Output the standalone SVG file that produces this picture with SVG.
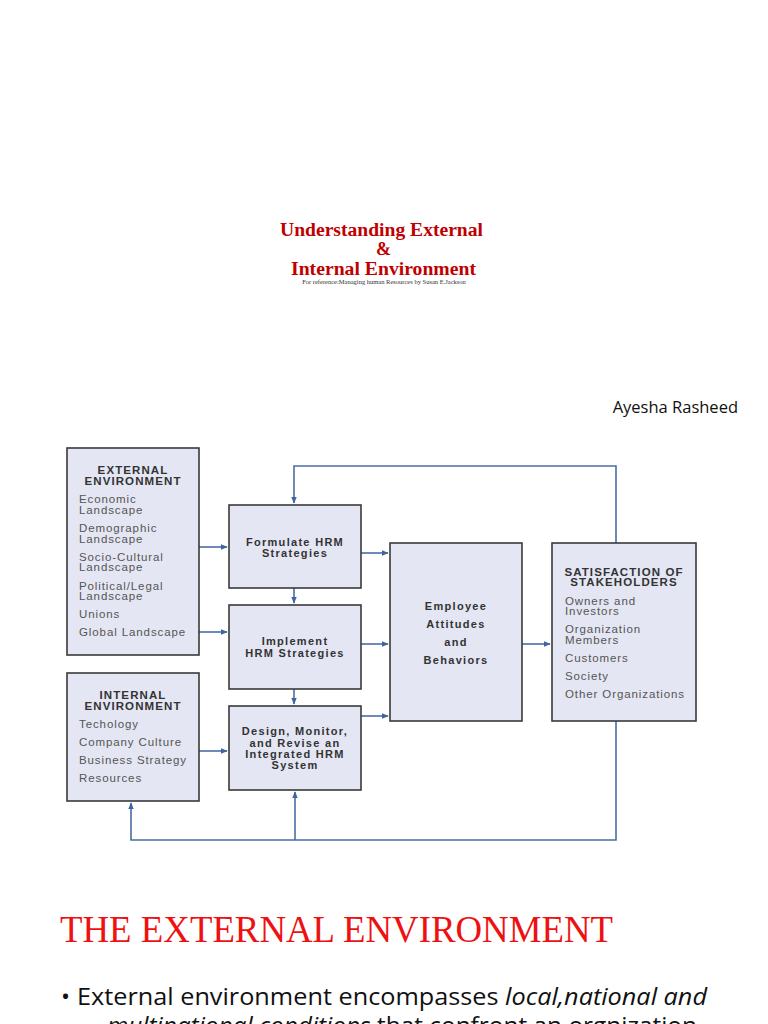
<svg xmlns="http://www.w3.org/2000/svg" width="768" height="1024" viewBox="0 0 768 1024">
<defs>
<marker id="ah" viewBox="0 0 10 10" refX="9" refY="5" markerWidth="7" markerHeight="7" markerUnits="userSpaceOnUse" orient="auto"><path d="M0,1 L10,5 L0,9 z" fill="#3f64a0"/></marker>
<style>
.box{fill:#e4e6f3;stroke:#3a3a3a;stroke-width:1.6}
.hd{font-family:"Liberation Sans",Arial,sans-serif;font-weight:bold;font-size:11.5px;fill:#333;letter-spacing:1.1px}
.it{font-family:"Liberation Sans",Arial,sans-serif;font-size:11.5px;fill:#555;letter-spacing:0.9px}
.ct{font-family:"Liberation Sans",Arial,sans-serif;font-weight:bold;font-size:11px;fill:#333;letter-spacing:1.3px}
.cn{fill:none;stroke:#4a6ea6;stroke-width:1.6}
.ti{font-family:"Liberation Serif","Times New Roman",serif;font-weight:bold;font-size:18px;fill:#c00000}
</style>
</defs>
<rect width="768" height="1024" fill="#fff"/>
<g id="title">
<text class="ti" x="280" y="236" textLength="203" lengthAdjust="spacingAndGlyphs">Understanding External</text>
<text class="ti" x="383.5" y="255" text-anchor="middle">&amp;</text>
<text class="ti" x="291" y="275" textLength="185" lengthAdjust="spacingAndGlyphs">Internal Environment</text>
<text x="384" y="284" text-anchor="middle" font-family="Liberation Serif,serif" font-size="6.5" fill="#333">For reference:Managing human Resources by Susan E.Jackson</text>
</g>
<text x="738" y="413" text-anchor="end" font-family="Open Sans,Liberation Sans,sans-serif" font-size="16.5" fill="#111">Ayesha Rasheed</text>
<g id="connectors">
<path class="cn" d="M616,543 V466 H294 V503" marker-end="url(#ah)"/>
<path class="cn" d="M616,721 V840 H131 V803" marker-end="url(#ah)"/>
<path class="cn" d="M295,840 V792" marker-end="url(#ah)"/>
<path class="cn" d="M199,547 H227" marker-end="url(#ah)"/>
<path class="cn" d="M199,632 H227" marker-end="url(#ah)"/>
<path class="cn" d="M199,751 H227" marker-end="url(#ah)"/>
<path class="cn" d="M361,553 H388" marker-end="url(#ah)"/>
<path class="cn" d="M361,644 H388" marker-end="url(#ah)"/>
<path class="cn" d="M361,716 H388" marker-end="url(#ah)"/>
<path class="cn" d="M522,644 H550" marker-end="url(#ah)"/>
<path class="cn" d="M294,588 V603" marker-end="url(#ah)"/>
<path class="cn" d="M294,689 V704" marker-end="url(#ah)"/>
</g>
<g id="external">
<rect class="box" x="67" y="448" width="132" height="207"/>
<text class="hd" x="133" y="474" text-anchor="middle">EXTERNAL</text>
<text class="hd" x="133" y="485" text-anchor="middle">ENVIRONMENT</text>
<text class="it" x="79" y="503">Economic</text>
<text class="it" x="79" y="514">Landscape</text>
<text class="it" x="79" y="532">Demographic</text>
<text class="it" x="79" y="543">Landscape</text>
<text class="it" x="79" y="561">Socio-Cultural</text>
<text class="it" x="79" y="571">Landscape</text>
<text class="it" x="79" y="590">Political/Legal</text>
<text class="it" x="79" y="600">Landscape</text>
<text class="it" x="79" y="618">Unions</text>
<text class="it" x="79" y="636">Global Landscape</text>
</g>
<g id="internal">
<rect class="box" x="67" y="673" width="132" height="128"/>
<text class="hd" x="133" y="699" text-anchor="middle">INTERNAL</text>
<text class="hd" x="133" y="710" text-anchor="middle">ENVIRONMENT</text>
<text class="it" x="79" y="728">Techology</text>
<text class="it" x="79" y="746">Company Culture</text>
<text class="it" x="79" y="764">Business Strategy</text>
<text class="it" x="79" y="782">Resources</text>
</g>
<g id="formulate">
<rect class="box" x="229" y="505" width="132" height="83"/>
<text class="ct" x="295" y="546" text-anchor="middle">Formulate HRM</text>
<text class="ct" x="295" y="557" text-anchor="middle">Strategies</text>
</g>
<g id="implement">
<rect class="box" x="229" y="605" width="132" height="84"/>
<text class="ct" x="295" y="645" text-anchor="middle">Implement</text>
<text class="ct" x="295" y="657" text-anchor="middle">HRM Strategies</text>
</g>
<g id="design">
<rect class="box" x="229" y="706" width="132" height="84"/>
<text class="ct" x="295" y="735" text-anchor="middle">Design, Monitor,</text>
<text class="ct" x="295" y="747" text-anchor="middle">and Revise an</text>
<text class="ct" x="295" y="758" text-anchor="middle">Integrated HRM</text>
<text class="ct" x="295" y="769" text-anchor="middle">System</text>
</g>
<g id="employee">
<rect class="box" x="390" y="543" width="132" height="178"/>
<text class="ct" x="456" y="610" text-anchor="middle">Employee</text>
<text class="ct" x="456" y="628" text-anchor="middle">Attitudes</text>
<text class="ct" x="456" y="646" text-anchor="middle">and</text>
<text class="ct" x="456" y="664" text-anchor="middle">Behaviors</text>
</g>
<g id="satisfaction">
<rect class="box" x="552" y="543" width="144" height="178"/>
<text class="hd" x="624" y="576" text-anchor="middle">SATISFACTION OF</text>
<text class="hd" x="624" y="586" text-anchor="middle">STAKEHOLDERS</text>
<text class="it" x="565" y="605">Owners and</text>
<text class="it" x="565" y="615">Investors</text>
<text class="it" x="565" y="633">Organization</text>
<text class="it" x="565" y="644">Members</text>
<text class="it" x="565" y="662">Customers</text>
<text class="it" x="565" y="680">Society</text>
<text class="it" x="565" y="698">Other Organizations</text>
</g>
<text x="60" y="942" font-family="Liberation Serif,Times New Roman,serif" font-size="37" fill="#ee1111" textLength="553" lengthAdjust="spacingAndGlyphs">THE EXTERNAL ENVIRONMENT</text>
<g font-family="Open Sans,Liberation Sans,sans-serif" font-size="24" fill="#111">
<text x="61" y="1005">•</text>
<text x="77" y="1005" textLength="630" lengthAdjust="spacingAndGlyphs">External environment encompasses <tspan font-style="italic">local,national and</tspan></text>
<text x="107" y="1034" textLength="590" lengthAdjust="spacingAndGlyphs"><tspan font-style="italic">multinational conditions</tspan> that confront an orgnization</text>
</g>
</svg>
